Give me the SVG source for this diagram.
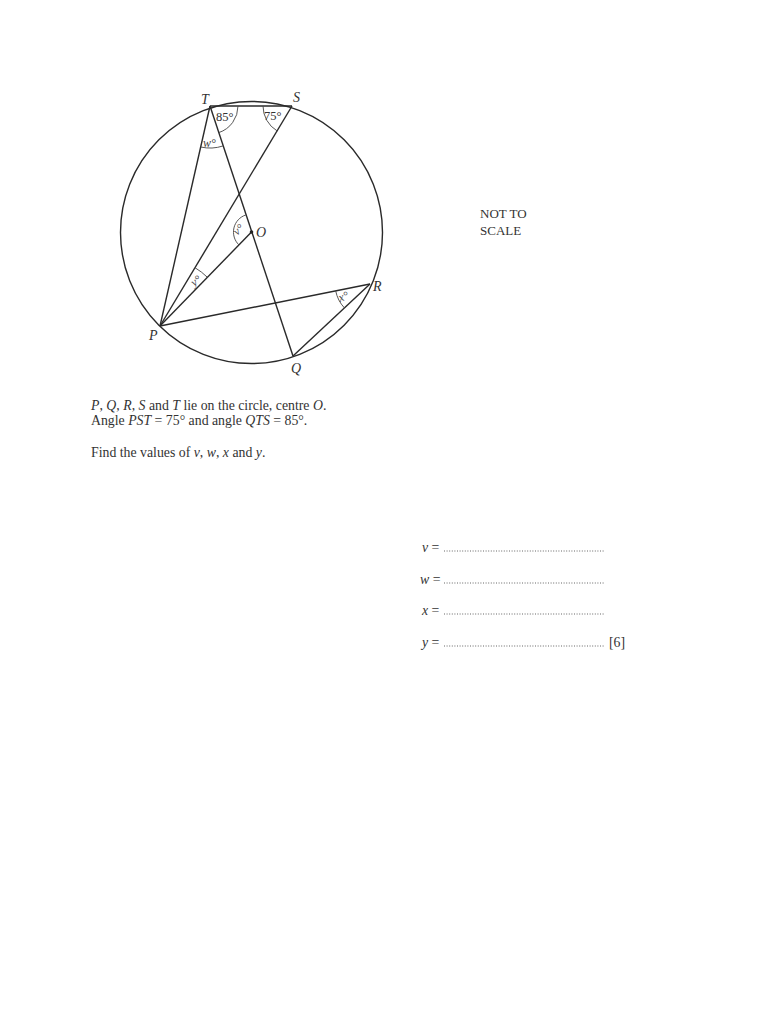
<svg xmlns="http://www.w3.org/2000/svg" width="768" height="1024" viewBox="0 0 768 1024">
<style>
.ln{fill:none;stroke:#2a2a2a;stroke-width:1.4}
.arc{fill:none;stroke:#444;stroke-width:0.9}
.lab{font-family:"Liberation Serif",serif;font-style:italic;font-size:14px;fill:#333}
.ang{font-family:"Liberation Serif",serif;font-size:12.5px;fill:#333}
.sm{font-family:"Liberation Serif",serif;font-style:italic;font-size:12px;fill:#444}
.txt{font-family:"Liberation Serif",serif;font-size:13.8px;fill:#333}
.it{font-style:italic}
.dot{stroke:#666;stroke-width:1;stroke-dasharray:1 1.6}
</style>
<rect width="768" height="1024" fill="#fff"/>
<g id="circle"><circle cx="251.5" cy="232.5" r="131" class="ln"/></g>
<g id="connectors">
<line x1="210" y1="106" x2="292" y2="106" class="ln"/>
<line x1="210" y1="106" x2="160" y2="326" class="ln"/>
<line x1="210" y1="106" x2="293" y2="356" class="ln"/>
<line x1="292" y1="106" x2="160" y2="326" class="ln"/>
<line x1="251.5" y1="232" x2="160" y2="326" class="ln"/>
<line x1="160" y1="326" x2="370" y2="284" class="ln"/>
<line x1="370" y1="284" x2="293" y2="356" class="ln"/>
</g>
<g id="angles">
<path d="M238,106 A28,28 0 0 1 218.8,132.6" class="arc"/>
<path d="M200.7,147 A42,42 0 0 0 223.2,145.9" class="arc"/>
<path d="M263,106 A29,29 0 0 0 277.1,130.9" class="arc"/>
<path d="M245.9,214.9 A18,18 0 0 0 238.9,244.9" class="arc"/>
<path d="M195,267.7 A68,68 0 0 1 207.4,277.3" class="arc"/>
<path d="M335.7,290.9 A35,35 0 0 0 344.4,307.9" class="arc"/>
<text x="216" y="121" class="ang">85°</text>
<text x="264" y="120" class="ang">75°</text>
<text x="203" y="147" class="sm">w°</text>
<text x="0" y="0" class="sm" transform="translate(237,236) rotate(-40)">v°</text>
<text x="0" y="0" class="sm" transform="translate(194,287) rotate(-35)">y°</text>
<text x="0" y="0" class="sm" transform="translate(340,302) rotate(-20)">x°</text>
</g>
<g id="O"><circle cx="251.5" cy="232" r="1.8" fill="#222"/><text x="256" y="237" class="lab">O</text></g>
<g id="T"><text x="201" y="104" class="lab">T</text></g>
<g id="S"><text x="293" y="102" class="lab">S</text></g>
<g id="P"><text x="149" y="340" class="lab">P</text></g>
<g id="Q"><text x="291" y="373" class="lab">Q</text></g>
<g id="R"><text x="373" y="291" class="lab">R</text></g>
<g id="note">
<text x="480" y="218" class="txt" style="font-size:13px">NOT TO</text>
<text x="480" y="235" class="txt" style="font-size:13px">SCALE</text>
</g>
<g id="question">
<text x="91" y="410" class="txt"><tspan class="it">P</tspan>, <tspan class="it">Q</tspan>, <tspan class="it">R</tspan>, <tspan class="it">S</tspan> and <tspan class="it">T</tspan> lie on the circle, centre <tspan class="it">O</tspan>.</text>
<text x="91" y="425" class="txt">Angle <tspan class="it">PST</tspan> = 75° and angle <tspan class="it">QTS</tspan> = 85°.</text>
<text x="91" y="457" class="txt">Find the values of <tspan class="it">v</tspan>, <tspan class="it">w</tspan>, <tspan class="it">x</tspan> and <tspan class="it">y</tspan>.</text>
</g>
<g id="answers">
<text x="422" y="552" class="txt"><tspan class="it">v</tspan> =</text>
<line x1="444" y1="551" x2="604" y2="551" class="dot"/>
<text x="420" y="584" class="txt"><tspan class="it">w</tspan> =</text>
<line x1="444" y1="583" x2="604" y2="583" class="dot"/>
<text x="422" y="615" class="txt"><tspan class="it">x</tspan> =</text>
<line x1="444" y1="614" x2="604" y2="614" class="dot"/>
<text x="422" y="647" class="txt"><tspan class="it">y</tspan> =</text>
<line x1="444" y1="646" x2="604" y2="646" class="dot"/>
<text x="609" y="647" class="txt">[6]</text>
</g>
</svg>
